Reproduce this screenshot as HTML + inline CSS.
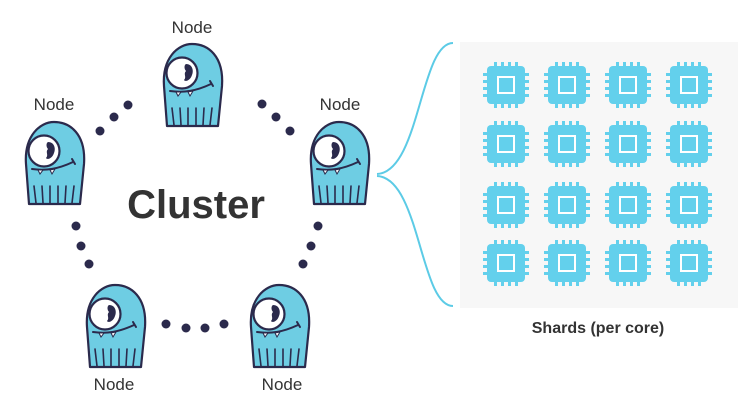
<!DOCTYPE html>
<html><head><meta charset="utf-8"><style>
body{margin:0;background:#fff;width:752px;height:400px;overflow:hidden;font-family:"Liberation Sans",sans-serif}
</style></head><body>
<svg width="752" height="400" viewBox="0 0 752 400" xmlns="http://www.w3.org/2000/svg">
<defs>
<g id="cr">
<path d="M6,44 C4,16 20,2 34,2 C50,2 66,14 64,44 L60,84 L9,84 Z" fill="#6ecde3" stroke="#2b2a4c" stroke-width="2.2" stroke-linejoin="round"/>
<g stroke="#2b2a4c" stroke-width="1.6" stroke-linecap="round">
<line x1="14" y1="66" x2="16" y2="83"/><line x1="22" y1="66" x2="23" y2="83"/><line x1="30" y1="66" x2="30" y2="83"/><line x1="38" y1="66" x2="38" y2="83"/><line x1="46" y1="66" x2="45" y2="83"/><line x1="54" y1="66" x2="52" y2="83"/>
</g>
<circle cx="24" cy="31" r="15.5" fill="#fff" stroke="#2b2a4c" stroke-width="2.2"/>
<path d="M28,22 C34,22 36,28 34,33 C32,39 27,40 26,38 C29,35 25,32 28,29 C26,27 26,23 28,22Z" fill="#2b2a4c"/>
<path d="M12,49 C26,51 38,49 53,42" fill="none" stroke="#2b2a4c" stroke-width="2" stroke-linecap="round"/>
<path d="M52,39 L55,44" stroke="#2b2a4c" stroke-width="2" stroke-linecap="round"/>
<path d="M18,50 L20,54 L23,50Z M30,50 L32,54 L35,49Z" fill="#fff" stroke="#2b2a4c" stroke-width="1"/>
</g>
<g id="chip">
<g fill="#63d0ec">
<rect x="-19" y="-19" width="38" height="38" rx="4"/>
<rect x="-12" y="-23" width="3" height="5"/><rect x="-5" y="-23" width="3" height="5"/><rect x="2" y="-23" width="3" height="5"/><rect x="9" y="-23" width="3" height="5"/>
<rect x="-12" y="18" width="3" height="5"/><rect x="-5" y="18" width="3" height="5"/><rect x="2" y="18" width="3" height="5"/><rect x="9" y="18" width="3" height="5"/>
<rect x="-23" y="-12" width="5" height="3"/><rect x="-23" y="-5" width="5" height="3"/><rect x="-23" y="2" width="5" height="3"/><rect x="-23" y="9" width="5" height="3"/>
<rect x="18" y="-12" width="5" height="3"/><rect x="18" y="-5" width="5" height="3"/><rect x="18" y="2" width="5" height="3"/><rect x="18" y="9" width="5" height="3"/>
</g>
<rect x="-8" y="-8" width="16" height="16" fill="none" stroke="#fff" stroke-width="2"/>
</g>
</defs>
<rect x="460" y="42" width="278" height="266" fill="#f7f7f7"/>
<path d="M377,174 C420,172 420,43 453,43" fill="none" stroke="#5ccbe6" stroke-width="2"/>
<path d="M377,176 C420,178 420,306 453,306" fill="none" stroke="#5ccbe6" stroke-width="2"/>
<g>
<use href="#chip" x="506" y="85"/><use href="#chip" x="567" y="85"/><use href="#chip" x="628" y="85"/><use href="#chip" x="689" y="85"/>
<use href="#chip" x="506" y="144"/><use href="#chip" x="567" y="144"/><use href="#chip" x="628" y="144"/><use href="#chip" x="689" y="144"/>
<use href="#chip" x="506" y="205"/><use href="#chip" x="567" y="205"/><use href="#chip" x="628" y="205"/><use href="#chip" x="689" y="205"/>
<use href="#chip" x="506" y="263"/><use href="#chip" x="567" y="263"/><use href="#chip" x="628" y="263"/><use href="#chip" x="689" y="263"/>
</g>
<use href="#cr" x="158" y="42"/>
<use href="#cr" x="20" y="120"/>
<use href="#cr" x="305" y="120"/>
<use href="#cr" x="81" y="283"/>
<use href="#cr" x="245" y="283"/>
<g fill="#2b2a4c">
<circle cx="128" cy="105" r="4.5"/><circle cx="114" cy="117" r="4.5"/><circle cx="100" cy="131" r="4.5"/>
<circle cx="262" cy="104" r="4.5"/><circle cx="276" cy="117" r="4.5"/><circle cx="290" cy="131" r="4.5"/>
<circle cx="76" cy="226" r="4.5"/><circle cx="81" cy="246" r="4.5"/><circle cx="89" cy="264" r="4.5"/>
<circle cx="318" cy="226" r="4.5"/><circle cx="311" cy="246" r="4.5"/><circle cx="303" cy="264" r="4.5"/>
<circle cx="166" cy="324" r="4.5"/><circle cx="186" cy="328" r="4.5"/><circle cx="205" cy="328" r="4.5"/><circle cx="224" cy="324" r="4.5"/>
</g>
<g font-family="Liberation Sans, sans-serif" font-size="17" fill="#333" text-anchor="middle">
<text x="192" y="33">Node</text>
<text x="54" y="110">Node</text>
<text x="340" y="110">Node</text>
<text x="114" y="390">Node</text>
<text x="282" y="390">Node</text>
</g>
<text x="196" y="218" font-family="Liberation Sans, sans-serif" font-size="40" font-weight="bold" fill="#333" text-anchor="middle">Cluster</text>
<text x="598" y="333" font-family="Liberation Sans, sans-serif" font-size="16" font-weight="bold" fill="#333" text-anchor="middle">Shards (per core)</text>
</svg>
</body></html>
